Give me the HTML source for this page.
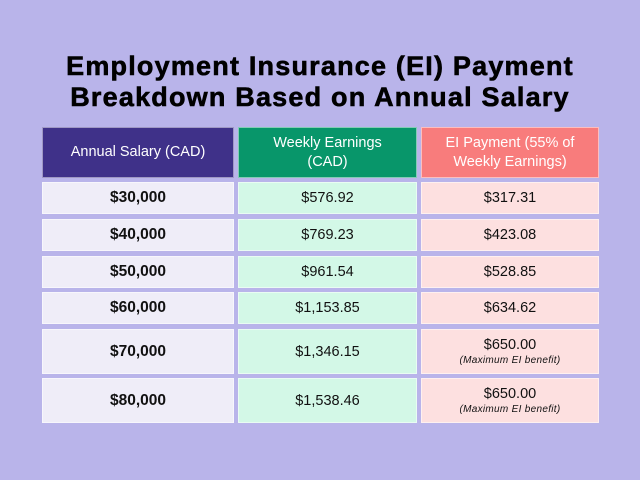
<!DOCTYPE html>
<html><head><style>
body{margin:0;width:640px;height:480px;background:#b9b4ea;font-family:"Liberation Sans",sans-serif;position:relative;overflow:hidden}
.t{position:absolute;left:0;width:640px;text-align:center;font-weight:bold;font-size:27px;color:#000;letter-spacing:1.2px;-webkit-text-stroke:0.6px #000}
.c{position:absolute;display:flex;flex-direction:column;align-items:center;justify-content:center;text-align:center;font-size:14.5px;color:#111;box-sizing:border-box;border:1px solid rgba(255,255,255,0.5)}
.h{color:#fff;font-size:14.5px;line-height:19px}
.a{background:#efedf8;font-weight:bold;font-size:15.5px}
.w{background:#d3f8e7}
.e{background:#fde0e0}
.s{font-size:10px;font-style:italic;margin-top:2px;letter-spacing:0.3px}
</style></head><body>
<div class="t" style="top:51px">Employment Insurance (EI) Payment</div>
<div class="t" style="top:82px">Breakdown Based on Annual Salary</div>

<div class="c h" style="left:42px;top:127px;width:192px;height:51px;background:#3f3189">Annual Salary (CAD)</div>
<div class="c h" style="left:238px;top:127px;width:179px;height:51px;background:#08966a">Weekly Earnings<br>(CAD)</div>
<div class="c h" style="left:421px;top:127px;width:178px;height:51px;background:#f87c7c">EI Payment (55% of<br>Weekly Earnings)</div>

<div class="c a" style="left:42px;top:182px;width:192px;height:32px">$30,000</div>
<div class="c w" style="left:238px;top:182px;width:179px;height:32px">$576.92</div>
<div class="c e" style="left:421px;top:182px;width:178px;height:32px">$317.31</div>

<div class="c a" style="left:42px;top:219px;width:192px;height:32px">$40,000</div>
<div class="c w" style="left:238px;top:219px;width:179px;height:32px">$769.23</div>
<div class="c e" style="left:421px;top:219px;width:178px;height:32px">$423.08</div>

<div class="c a" style="left:42px;top:256px;width:192px;height:32px">$50,000</div>
<div class="c w" style="left:238px;top:256px;width:179px;height:32px">$961.54</div>
<div class="c e" style="left:421px;top:256px;width:178px;height:32px">$528.85</div>

<div class="c a" style="left:42px;top:292px;width:192px;height:32px">$60,000</div>
<div class="c w" style="left:238px;top:292px;width:179px;height:32px">$1,153.85</div>
<div class="c e" style="left:421px;top:292px;width:178px;height:32px">$634.62</div>

<div class="c a" style="left:42px;top:329px;width:192px;height:45px">$70,000</div>
<div class="c w" style="left:238px;top:329px;width:179px;height:45px">$1,346.15</div>
<div class="c e" style="left:421px;top:329px;width:178px;height:45px"><div>$650.00</div><div class="s">(Maximum EI benefit)</div></div>

<div class="c a" style="left:42px;top:378px;width:192px;height:45px">$80,000</div>
<div class="c w" style="left:238px;top:378px;width:179px;height:45px">$1,538.46</div>
<div class="c e" style="left:421px;top:378px;width:178px;height:45px"><div>$650.00</div><div class="s">(Maximum EI benefit)</div></div>
</body></html>
